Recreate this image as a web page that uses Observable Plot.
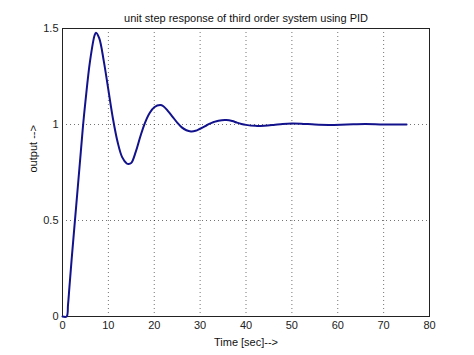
<!DOCTYPE html>
<html>
<head>
<meta charset="utf-8">
<script src="https://cdn.jsdelivr.net/npm/d3@7"></script>
<script src="https://cdn.jsdelivr.net/npm/@observablehq/plot@0.6"></script>
<style>
  html, body { margin: 0; padding: 0; background: #fff; }
</style>
</head>
<body>
<div id="chart"></div>
<script>
const titleText = "unit step response of third order system using PID";
const xLabel = "Time [sec]-->";
const yLabel = "output -->";
const xTicks = [0, 10, 20, 30, 40, 50, 60, 70, 80];
const yTicks = [0, 0.5, 1, 1.5];

const time = [0, 0.9, 1.2, 1.5, 2, 3, 4, 4.5, 5, 6, 7, 7.3, 8, 9, 10, 11, 12, 13, 14, 14.4, 15, 16, 17, 18, 19, 20, 21.3, 22, 23, 24, 25, 26, 27, 28, 29, 30, 31, 32, 33, 34, 35.7, 37, 38, 39, 40, 42, 44, 46, 48, 50, 52, 55, 58, 62, 66, 70, 75];
const output = [0, 0, 0.06, 0.15, 0.3, 0.58, 0.86, 1.0, 1.12, 1.33, 1.465, 1.478, 1.45, 1.33, 1.18, 1.03, 0.91, 0.83, 0.797, 0.794, 0.80, 0.86, 0.94, 1.01, 1.06, 1.09, 1.101, 1.095, 1.07, 1.04, 1.01, 0.985, 0.97, 0.964, 0.967, 0.978, 0.99, 1.003, 1.013, 1.02, 1.023, 1.018, 1.01, 1.003, 0.998, 0.993, 0.994, 0.998, 1.003, 1.005, 1.004, 1.0, 0.998, 1.0, 1.002, 1.0, 1.0];

const data = time.map((t, i) => ({t, v: output[i]}));

const chart = Plot.plot({
  width: 474,
  height: 355,
  marginTop: 28,
  marginBottom: 39,
  marginLeft: 62,
  marginRight: 45,
  style: {fontFamily: "'Liberation Sans', Arial, sans-serif", fontSize: "11px", color: "#222", background: "#fff"},
  x: {domain: [0, 80], ticks: xTicks, label: null},
  y: {domain: [0, 1.5], ticks: yTicks, label: null},
  marks: [
    Plot.gridX(xTicks, {stroke: "#000", strokeOpacity: 0.55, strokeDasharray: "1,3"}),
    Plot.gridY(yTicks, {stroke: "#000", strokeOpacity: 0.55, strokeDasharray: "1,3"}),
    Plot.axisX(xTicks, {tickSize: 0, tickPadding: 5, label: null, fontSize: 11, tickFormat: d => String(d)}),
    Plot.axisY(yTicks, {tickSize: 0, tickPadding: 4, label: null, fontSize: 11, tickFormat: d => String(d)}),
    Plot.frame({stroke: "#222"}),
    Plot.line(data, {x: "t", y: "v", stroke: "#12128c", strokeWidth: 2, curve: "catmull-rom"}),
    Plot.text([titleText], {frameAnchor: "top", dy: -14, text: d => d, fontSize: 11, fill: "#111"}),
    Plot.text([xLabel], {frameAnchor: "bottom", dy: 29, text: d => d, fontSize: 11, fill: "#111"}),
    Plot.text([yLabel], {frameAnchor: "left", dx: -29, rotate: -90, text: d => d, fontSize: 11, fill: "#111"})
  ]
});
document.getElementById("chart").appendChild(chart);
</script>
</body>
</html>
